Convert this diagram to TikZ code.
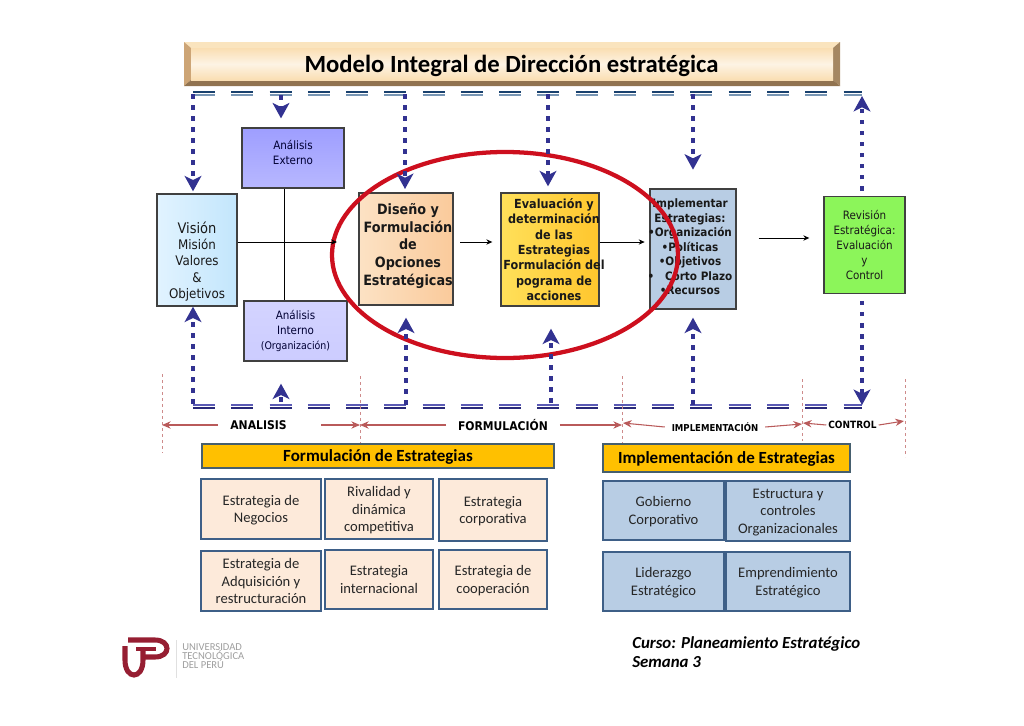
\documentclass[tikz,border=0pt]{standalone}
\usepackage{fontspec}
\setmainfont{Carlito}
\newfontfamily\verd[FakeStretch=0.9]{DejaVu Sans}
\usetikzlibrary{arrows.meta,calc}
\definecolor{barcolor}{RGB}{250,222,178}
\definecolor{barlight}{RGB}{250,228,190}
\definecolor{barleft}{RGB}{205,165,118}
\definecolor{barright}{RGB}{165,135,98}
\definecolor{bardark}{RGB}{145,115,80}
\definecolor{frametopa}{RGB}{25,65,110}
\definecolor{frametopb}{RGB}{120,150,180}
\definecolor{framebota}{RGB}{90,90,180}
\definecolor{framebotb}{RGB}{40,40,120}
\definecolor{flowblue}{RGB}{50,50,145}
\definecolor{ringred}{RGB}{205,15,30}
\definecolor{bandred}{RGB}{185,90,90}
\definecolor{boxline}{RGB}{62,95,135}
\definecolor{headline}{RGB}{70,95,110}
\definecolor{headorange}{RGB}{255,192,0}
\definecolor{peach}{RGB}{253,234,218}
\definecolor{steel}{RGB}{184,205,228}
\definecolor{revgreen}{RGB}{140,245,90}
\definecolor{visleft}{RGB}{225,243,255}
\definecolor{visright}{RGB}{195,230,252}
\definecolor{disleft}{RGB}{252,226,196}
\definecolor{disright}{RGB}{250,202,155}
\definecolor{evaleft}{RGB}{255,224,90}
\definecolor{evaright}{RGB}{255,198,45}
\definecolor{utpred}{RGB}{150,30,50}
\newcommand{\px}{0.75pt}
\newcommand{\fpx}[2]{\fontsize{\the\dimexpr#1pt*3/4\relax}{\the\dimexpr#2pt*3/4\relax}\selectfont}
\tikzset{
  sz/.style n args={2}{minimum width=#1*\px, minimum height=#2*\px},
  mainbox/.style={draw=black!75, line width=1pt, align=center, inner sep=0pt, text=black!90},
  lowbox/.style={draw=boxline, line width=1.7pt, align=center, inner sep=0pt, text=black!85},
  headbox/.style={draw=headline, fill=headorange, line width=1.8pt, inner sep=0pt, text depth=0pt, font=\bfseries\fpx{17}{20}},
  lowtext/.style={font=\fpx{14.6}{17.5}, text depth=0pt},
  overtext/.style={align=center, inner sep=0pt, text=black!90},
  flow/.style={draw=flowblue, line width=3.4pt, dash pattern=on 3.4pt off 4.9pt, -{Stealth[length=11.5pt,width=12.5pt,inset=3pt]}},
  thinarrow/.style={draw=black, line width=0.7pt, -{Stealth[length=4.5pt,width=4pt]}},
  bandarrow/.style={draw=bandred, line width=0.8pt, -{Stealth[length=6.5pt,width=5.5pt]}},
  sepline/.style={draw=bandred!70, line width=0.7pt, dash pattern=on 2.5pt off 2pt},
  bandlbl/.style={text=black, inner sep=0pt},
  frameline/.style={line width=1.5pt, dash pattern=on 16.5pt off 12.2pt},
  logoline/.style={draw=utpred, line width=3.8pt}
}
\begin{document}
\begin{tikzpicture}[x=0.75pt, y=-0.75pt]
  \useasboundingbox (0,0) rectangle (1024,725);
  % title bar
  \fill[barlight] (184,42) -- (840,42) -- (833,48) -- (191,48) -- cycle;
  \fill[barleft] (184,42) -- (191,48) -- (191,80) -- (184,86) -- cycle;
  \fill[barright] (840,42) -- (833,48) -- (833,80) -- (840,86) -- cycle;
  \fill[bardark] (184,86) -- (191,80) -- (833,80) -- (840,86) -- cycle;
  \node[sz={642}{32}, inner sep=0pt, outer sep=0pt, top color=barcolor, bottom color=barcolor, middle color=barcolor!35!white] (title) at (512,64) {};
  \node[font=\bfseries\fpx{24.7}{28}, inner sep=0pt] (titletext) at (511.5,65.5) {Modelo Integral de Dirección estratégica};
  % upper boxes
  \node[mainbox, sz={102}{60}, top color=blue!38!white, bottom color=blue!28!white, font=\verd\fpx{11.5}{15}, text=black!80!blue] (externo) at (293,158) {Análisis\\Externo\\[-3pt]};
  \node[mainbox, sz={103}{60}, top color=blue!17!white, bottom color=blue!20!white, font=\verd\fpx{11.5}{15}, text=black!80!blue] (interno) at (295.5,331) {Análisis\\Interno\\{\fpx{10.5}{13}(Organización)}};
  \node[mainbox, sz={80}{112}, left color=visleft, right color=visright, font=\verd\fpx{13.2}{16.2}] (vision) at (197,250) {\rule{0pt}{26pt}{\fpx{14.5}{17}Visión}\\Misión\\Valores\\\&\\Objetivos};
  \node[mainbox, sz={94}{112}, left color=disleft, right color=disright] (diseno) at (406,249) {};
  \node[overtext, font=\verd\bfseries\fpx{14.2}{17.7}] (disenotext) at (408,246) {Diseño y\\Formulación\\de\\Opciones\\Estratégicas};
  \node[mainbox, sz={98}{113}, left color=evaleft, right color=evaright] (evalua) at (550,249.5) {};
  \node[overtext, font=\verd\bfseries\fpx{12.5}{15.4}] (evaluatext) at (554,249.5) {Evaluación y\\determinación\\de las\\Estrategias\\Formulación del\\pograma de\\acciones};
  \node[mainbox, sz={86}{120}, fill=steel] (implem) at (693,249) {};
  \node[overtext, font=\verd\bfseries\fpx{11.6}{14.5}] (implemtext) at (690,247) {Implementar\\Estrategias:\\•Organización\\•Políticas\\•Objetivos\\•\hspace{8pt}Corto Plazo\\•Recursos};
  \node[mainbox, sz={81}{97}, fill=revgreen, font=\verd\fpx{11.5}{14.8}] (revision) at (864.5,245) {Revisión\\Estratégica:\\Evaluación\\y\\Control};
  % frame lines
  \coordinate (frameTL) at (193,91.5); \coordinate (frameTR) at (862,91.5);
  \coordinate (frameBL) at (193,404.5); \coordinate (frameBR) at (862,404.5);
  \draw[frameline, frametopa] (frameTL) -- (frameTR);
  \draw[frameline, frametopb] ($(frameTL)+(0,3)$) -- ($(frameTR)+(0,3)$);
  \draw[frameline, framebota] (frameBL) -- (frameBR);
  \draw[frameline, framebotb] ($(frameBL)+(0,3)$) -- ($(frameBR)+(0,3)$);
  % ring
  \draw[ringred, line width=3.2pt] (505,255) ellipse [x radius=173, y radius=103];
  % thin flow
  \coordinate (flowa) at (0,242); \coordinate (flowb) at (0,238);
  \draw[black, line width=0.7pt] (externo.south -| 284,0) -- (interno.north -| 284,0);
  \draw[thinarrow, shorten >=16pt] (vision.east |- flowa) -- (diseno.west |- flowa);
  \draw[thinarrow, shorten <=5pt, shorten >=6pt] (diseno.east |- flowa) -- (evalua.west |- flowa);
  \draw[thinarrow, shorten >=3.5pt] (evalua.east |- flowa) -- (implem.west |- flowa);
  \draw[thinarrow, shorten <=16.5pt, shorten >=10.5pt] (implem.east |- flowb) -- (revision.west |- flowb);
  % dotted flows, top
  \coordinate (topvis) at (193,94); \coordinate (topext) at (281,95); \coordinate (topdis) at (405,94);
  \coordinate (topeva) at (548,94); \coordinate (topimp) at (693,94); \coordinate (toprev) at (862,96);
  \draw[flow, shorten >=1.5pt] (topvis) -- (topvis |- vision.north);
  \draw[flow, shorten >=6.7pt] (topext) -- (topext |- externo.north);
  \draw[flow, shorten >=2.5pt] (topdis) -- (topdis |- diseno.north);
  \draw[flow, shorten >=4.5pt] (topeva) -- (topeva |- evalua.north);
  \draw[flow, shorten >=14pt] (topimp) -- (topimp |- implem.north);
  \draw[flow, shorten <=4pt] (toprev |- revision.north) -- (toprev);
  % dotted flows, bottom
  \coordinate (botvis) at (193,404); \coordinate (botint) at (281,402); \coordinate (botdis) at (406,405);
  \coordinate (boteva) at (551,403); \coordinate (botimp) at (693,405); \coordinate (botrev) at (862,405);
  \draw[flow] (botvis) -- (botvis |- vision.south);
  \draw[flow, shorten >=16.5pt] (botint) -- (botint |- interno.south);
  \draw[flow, shorten >=9pt] (botdis) -- (botdis |- diseno.south);
  \draw[flow, shorten >=16.5pt] (boteva) -- (boteva |- evalua.south);
  \draw[flow, shorten >=6pt] (botimp) -- (botimp |- implem.south);
  \draw[flow, shorten <=5pt] (botrev |- revision.south) -- (botrev);
  % stage bands
  \foreach \n/\x/\t/\b in {a/162/374/453, b/360/376/450, c/622/376/445, d/802/379/441, e/905/379/457} {
    \coordinate (sep\n) at (\x,425);
    \draw[sepline] (\x,\t) -- (\x,\b);
  }
  \node[bandlbl, font=\verd\bfseries\fpx{12}{14}, minimum width=80*\px] (analisis) at (258.5,425) {ANALISIS};
  \node[bandlbl, font=\verd\bfseries\fpx{12}{14}, minimum width=113*\px] (formula) at (503,425) {FORMULACIÓN};
  \node[bandlbl, font=\verd\bfseries\fpx{9.5}{14}, minimum width=100*\px] (implant) at (715,427) {IMPLEMENTACIÓN};
  \node[bandlbl, font=\verd\bfseries\fpx{10}{14}, minimum width=52*\px] (control) at (852.5,425) {CONTROL};
  \draw[bandarrow] (analisis) -- (sepa);
  \draw[bandarrow, shorten <=17pt] (analisis) -- (sepb);
  \draw[bandarrow] (formula) -- (sepb);
  \draw[bandarrow] (formula) -- (sepc);
  \coordinate (implanta) at (623,423); \coordinate (implantb) at (802,424);
  \coordinate (controla) at (803,423); \coordinate (controlb) at (904,421);
  \draw[bandarrow] (implant.west) -- (implanta);
  \draw[bandarrow] (implant.east) -- (implantb);
  \draw[bandarrow] (control.west) -- (controla);
  \draw[bandarrow] (control.east) -- (controlb);
  % headers
  \node[headbox, sz={352}{24}] (headform) at (378,456) {Formulación de Estrategias};
  \node[headbox, sz={247}{28}] (headimpl) at (726.5,458) {Implementación de Estrategias};
  % strategy boxes
  \node[lowbox, lowtext, sz={120}{60}, fill=peach] (negocios) at (261,509) {Estrategia de\\Negocios};
  \node[lowbox, lowtext, sz={108}{60}, fill=peach] (rivalidad) at (379,509) {Rivalidad y\\dinámica\\competitiva};
  \node[lowbox, lowtext, sz={108}{62}, fill=peach] (corporativa) at (493,510) {Estrategia\\corporativa};
  \node[lowbox, lowtext, sz={120}{60}, fill=peach] (adquisicion) at (261,581) {Estrategia de\\Adquisición y\\restructuración};
  \node[lowbox, lowtext, sz={108}{59}, fill=peach] (internacional) at (379,579.5) {Estrategia\\internacional};
  \node[lowbox, lowtext, sz={108}{59}, fill=peach] (cooperacion) at (493,579.5) {Estrategia de\\cooperación};
  \node[lowbox, lowtext, sz={121}{59}, fill=steel] (gobierno) at (663.5,510.5) {Gobierno\\Corporativo};
  \node[lowbox, lowtext, sz={124}{60}, fill=steel] (estructura) at (788,511) {Estructura y\\controles\\Organizacionales};
  \node[lowbox, lowtext, sz={121}{59}, fill=steel] (liderazgo) at (663.5,581.5) {Liderazgo\\Estratégico};
  \node[lowbox, lowtext, sz={124}{59}, fill=steel] (emprende) at (788,581.5) {Emprendimiento\\Estratégico};
  % course note
  \node[anchor=north west, align=left, inner sep=0pt, font=\bfseries\itshape\fpx{16.85}{19.5}] (curso) at (632,636) {Curso: Planeamiento Estratégico\\Semana 3};
  % logo
  \draw[logoline] (125,646) -- (125,660) .. controls (125,680) and (143,680) .. (143,660) -- (143,650);
  \draw[logoline] (128,640) -- (155,640) .. controls (171,640) and (171,657) .. (155,657) -- (143,657);
  \draw[logoline, line width=2.6pt] (136,649) -- (156,649);
  \draw[black!12, line width=0.7pt] (176,640) -- (176,678);
  \node[anchor=west, align=left, inner sep=0pt, text=black!38, font=\fpx{10.6}{9.3}] (utp) at (182,656) {UNIVERSIDAD\\TECNOLÓGICA\\DEL PERÚ};
\end{tikzpicture}
\end{document}
